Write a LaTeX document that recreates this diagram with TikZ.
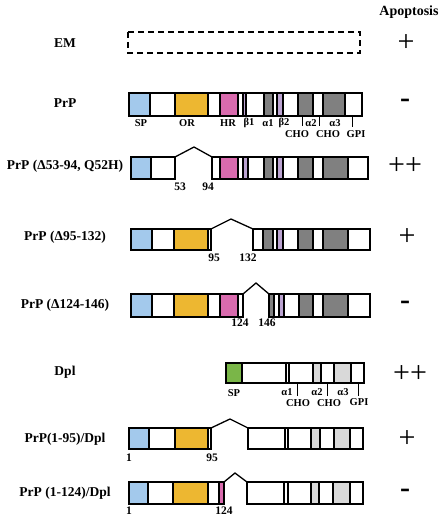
\documentclass[tikz,border=0pt]{standalone}
\usepackage{fontspec}
\setmainfont{Liberation Serif}
\definecolor{blueP}{HTML}{A3C9EC}
\definecolor{yellowP}{HTML}{EDB731}
\definecolor{pinkP}{HTML}{D96BAE}
\definecolor{lavP}{HTML}{BBA3D1}
\definecolor{grayP}{HTML}{808080}
\definecolor{lgrayP}{HTML}{D9D9D9}
\definecolor{greenP}{HTML}{7AB648}
\newcommand\segbox[3]{\filldraw[segline,fill=#3] (#1,\rowtop) rectangle (#2,\rowbot);}
\begin{document}
\begin{tikzpicture}[x=1pt,y=-1pt,
  segline/.style={draw=black,line width=1.3pt},
  hinge/.style={draw=black,line width=1.3pt,line join=miter},
  rowlabel/.style={font=\fontsize{13.5}{15}\selectfont\bfseries,inner sep=0pt},
  tag/.style={font=\fontsize{10.5}{12}\selectfont\bfseries,inner sep=0pt},
  num/.style={font=\fontsize{11.5}{13}\selectfont\bfseries,inner sep=0pt},
  sign/.style={font=\fontsize{30}{30}\selectfont,inner sep=0pt},
  minussign/.style={font=\fontsize{30}{30}\selectfont\bfseries,inner sep=0pt},
  tickline/.style={draw=black,line width=1pt}]
\useasboundingbox (0,0) rectangle (440,518);

% header
\node[font=\fontsize{14}{16}\selectfont\bfseries,inner sep=0pt] (hdr) at (409,12) {Apoptosis};

% ---------- EM ----------
\node[rowlabel] (lEM) at (65,43) {EM};
\draw[line width=1.5pt,dash pattern=on 6pt off 4pt] (128,32) rectangle (360,53);
\node[sign] (sEM) at (406,43) {+};

% ---------- PrP ----------
\node[rowlabel] (lPrP) at (65,103) {PrP};
\def\rowtop{93}\def\rowbot{116}
\segbox{129}{150}{blueP}
\segbox{150}{175}{white}
\segbox{175}{208}{yellowP}
\segbox{208}{220}{white}
\segbox{220}{238}{pinkP}
\segbox{238}{243}{white}
\segbox{243}{246}{lavP}
\segbox{246}{264}{white}
\segbox{264}{273}{grayP}
\segbox{273}{277}{white}
\segbox{277}{283}{lavP}
\segbox{283}{298}{white}
\segbox{298}{313}{grayP}
\segbox{313}{323}{white}
\segbox{323}{345}{grayP}
\segbox{345}{362}{white}
\draw[tickline] (302,116) -- (302,126);
\draw[tickline] (319,116) -- (319,126);
\draw[tickline] (352,116) -- (352,127);
\node[tag] (tSP) at (141,123) {SP};
\node[tag] (tOR) at (187,123) {OR};
\node[tag] (tHR) at (228,123) {HR};
\node[tag] (tb1) at (249,123) {β1};
\node[tag] (ta1) at (268,123) {α1};
\node[tag] (tb2) at (284,123) {β2};
\node[tag] (ta2) at (311,123) {α2};
\node[tag] (ta3) at (335,123) {α3};
\node[tag] (tC1) at (297,134) {CHO};
\node[tag] (tC2) at (328,134) {CHO};
\node[tag] (tG) at (356,134) {GPI};
\node[minussign] (sPrP) at (405,103) {-};

% ---------- PrP (D53-94, Q52H) ----------
\node[rowlabel] (l5394) at (65,166) {PrP (Δ53-94, Q52H)};
\def\rowtop{157}\def\rowbot{179}
\segbox{131}{151}{blueP}
\segbox{151}{175}{white}
\segbox{212}{220}{white}
\segbox{220}{238}{pinkP}
\segbox{238}{243}{white}
\segbox{243}{248}{lavP}
\segbox{248}{264}{white}
\segbox{264}{273}{grayP}
\segbox{273}{277}{white}
\segbox{277}{283}{lavP}
\segbox{283}{298}{white}
\segbox{298}{313}{grayP}
\segbox{313}{323}{white}
\segbox{323}{348}{grayP}
\segbox{348}{368}{white}
\coordinate (h1a) at (175,157); \coordinate (h1p) at (194,147); \coordinate (h1b) at (212,157);
\draw[hinge] (h1a) -- (h1p) -- (h1b);
\node[num] (n53) at (180,187) {53};
\node[num] (n94) at (208,187) {94};
\node[sign] (s5394) at (405,166) {++};

% ---------- PrP (D95-132) ----------
\node[rowlabel] (l95132) at (65,237) {PrP (Δ95-132)};
\def\rowtop{229}\def\rowbot{250}
\segbox{131}{152}{blueP}
\segbox{152}{174}{white}
\segbox{174}{208}{yellowP}
\segbox{208}{211}{white}
\segbox{253}{263}{white}
\segbox{263}{273}{grayP}
\segbox{273}{277}{white}
\segbox{277}{283}{lavP}
\segbox{283}{298}{white}
\segbox{298}{313}{grayP}
\segbox{313}{323}{white}
\segbox{323}{348}{grayP}
\segbox{348}{370}{white}
\coordinate (h2a) at (211,229); \coordinate (h2p) at (231,219); \coordinate (h2b) at (253,229);
\draw[hinge] (h2a) -- (h2p) -- (h2b);
\node[num] (n95a) at (214,258) {95};
\node[num] (n132) at (248,258) {132};
\node[sign] (s95132) at (407,237) {+};

% ---------- PrP (D124-146) ----------
\node[rowlabel] (l124146) at (65,305) {PrP (Δ124-146)};
\def\rowtop{294}\def\rowbot{317}
\segbox{131}{152}{blueP}
\segbox{152}{174}{white}
\segbox{174}{208}{yellowP}
\segbox{208}{220}{white}
\segbox{220}{238}{pinkP}
\segbox{238}{243}{white}
\segbox{269}{274}{grayP}
\segbox{274}{279}{white}
\segbox{279}{284}{lavP}
\segbox{284}{299}{white}
\segbox{299}{313}{grayP}
\segbox{313}{323}{white}
\segbox{323}{348}{grayP}
\segbox{348}{370}{white}
\coordinate (h3a) at (243,294); \coordinate (h3p) at (256,283); \coordinate (h3b) at (269,294);
\draw[hinge] (h3a) -- (h3p) -- (h3b);
\node[num] (n124a) at (240,323) {124};
\node[num] (n146) at (267,323) {146};
\node[minussign] (s124146) at (405,305) {-};

% ---------- Dpl ----------
\node[rowlabel] (lDpl) at (65,372) {Dpl};
\def\rowtop{363}\def\rowbot{383}
\segbox{226}{242}{greenP}
\segbox{242}{286}{white}
\segbox{286}{289}{white}
\segbox{289}{313}{white}
\segbox{313}{321}{lgrayP}
\segbox{321}{334}{white}
\segbox{334}{351}{lgrayP}
\segbox{351}{364}{white}
\draw[tickline] (297,383) -- (297,396);
\draw[tickline] (327,383) -- (327,396);
\draw[tickline] (358,383) -- (358,396);
\node[tag] (dSP) at (234,393) {SP};
\node[tag] (da1) at (287,392) {α1};
\node[tag] (da2) at (317,392) {α2};
\node[tag] (da3) at (343,392) {α3};
\node[tag] (dC1) at (298,403) {CHO};
\node[tag] (dC2) at (329,403) {CHO};
\node[tag] (dG) at (359,402) {GPI};
\node[sign] (sDpl) at (410,374) {++};

% ---------- PrP(1-95)/Dpl ----------
\node[rowlabel] (l195) at (65,439) {PrP(1-95)/Dpl};
\def\rowtop{428}\def\rowbot{449}
\segbox{129}{149}{blueP}
\segbox{149}{175}{white}
\segbox{175}{208}{yellowP}
\segbox{208}{211}{white}
\segbox{248}{285}{white}
\segbox{285}{288}{white}
\segbox{288}{311}{white}
\segbox{311}{320}{lgrayP}
\segbox{320}{334}{white}
\segbox{334}{350}{lgrayP}
\segbox{350}{363}{white}
\coordinate (h4a) at (211,428); \coordinate (h4p) at (230,419); \coordinate (h4b) at (248,428);
\draw[hinge] (h4a) -- (h4p) -- (h4b);
\node[num] (n1a) at (129,458) {1};
\node[num] (n95b) at (212,458) {95};
\node[sign] (s195) at (407,439) {+};

% ---------- PrP (1-124)/Dpl ----------
\node[rowlabel] (l1124) at (65,493) {PrP (1-124)/Dpl};
\def\rowtop{482}\def\rowbot{504}
\segbox{129}{148}{blueP}
\segbox{148}{173}{white}
\segbox{173}{208}{yellowP}
\segbox{208}{219}{white}
\segbox{219}{224}{pinkP}
\segbox{247}{284}{white}
\segbox{284}{288}{white}
\segbox{288}{311}{white}
\segbox{311}{319}{lgrayP}
\segbox{319}{333}{white}
\segbox{333}{350}{lgrayP}
\segbox{350}{363}{white}
\coordinate (h5a) at (224,482); \coordinate (h5p) at (235,473); \coordinate (h5b) at (247,482);
\draw[hinge] (h5a) -- (h5p) -- (h5b);
\node[num] (n1b) at (129,511) {1};
\node[num] (n124b) at (224,511) {124};
\node[minussign] (s1124) at (405,493) {-};
\end{tikzpicture}
\end{document}
